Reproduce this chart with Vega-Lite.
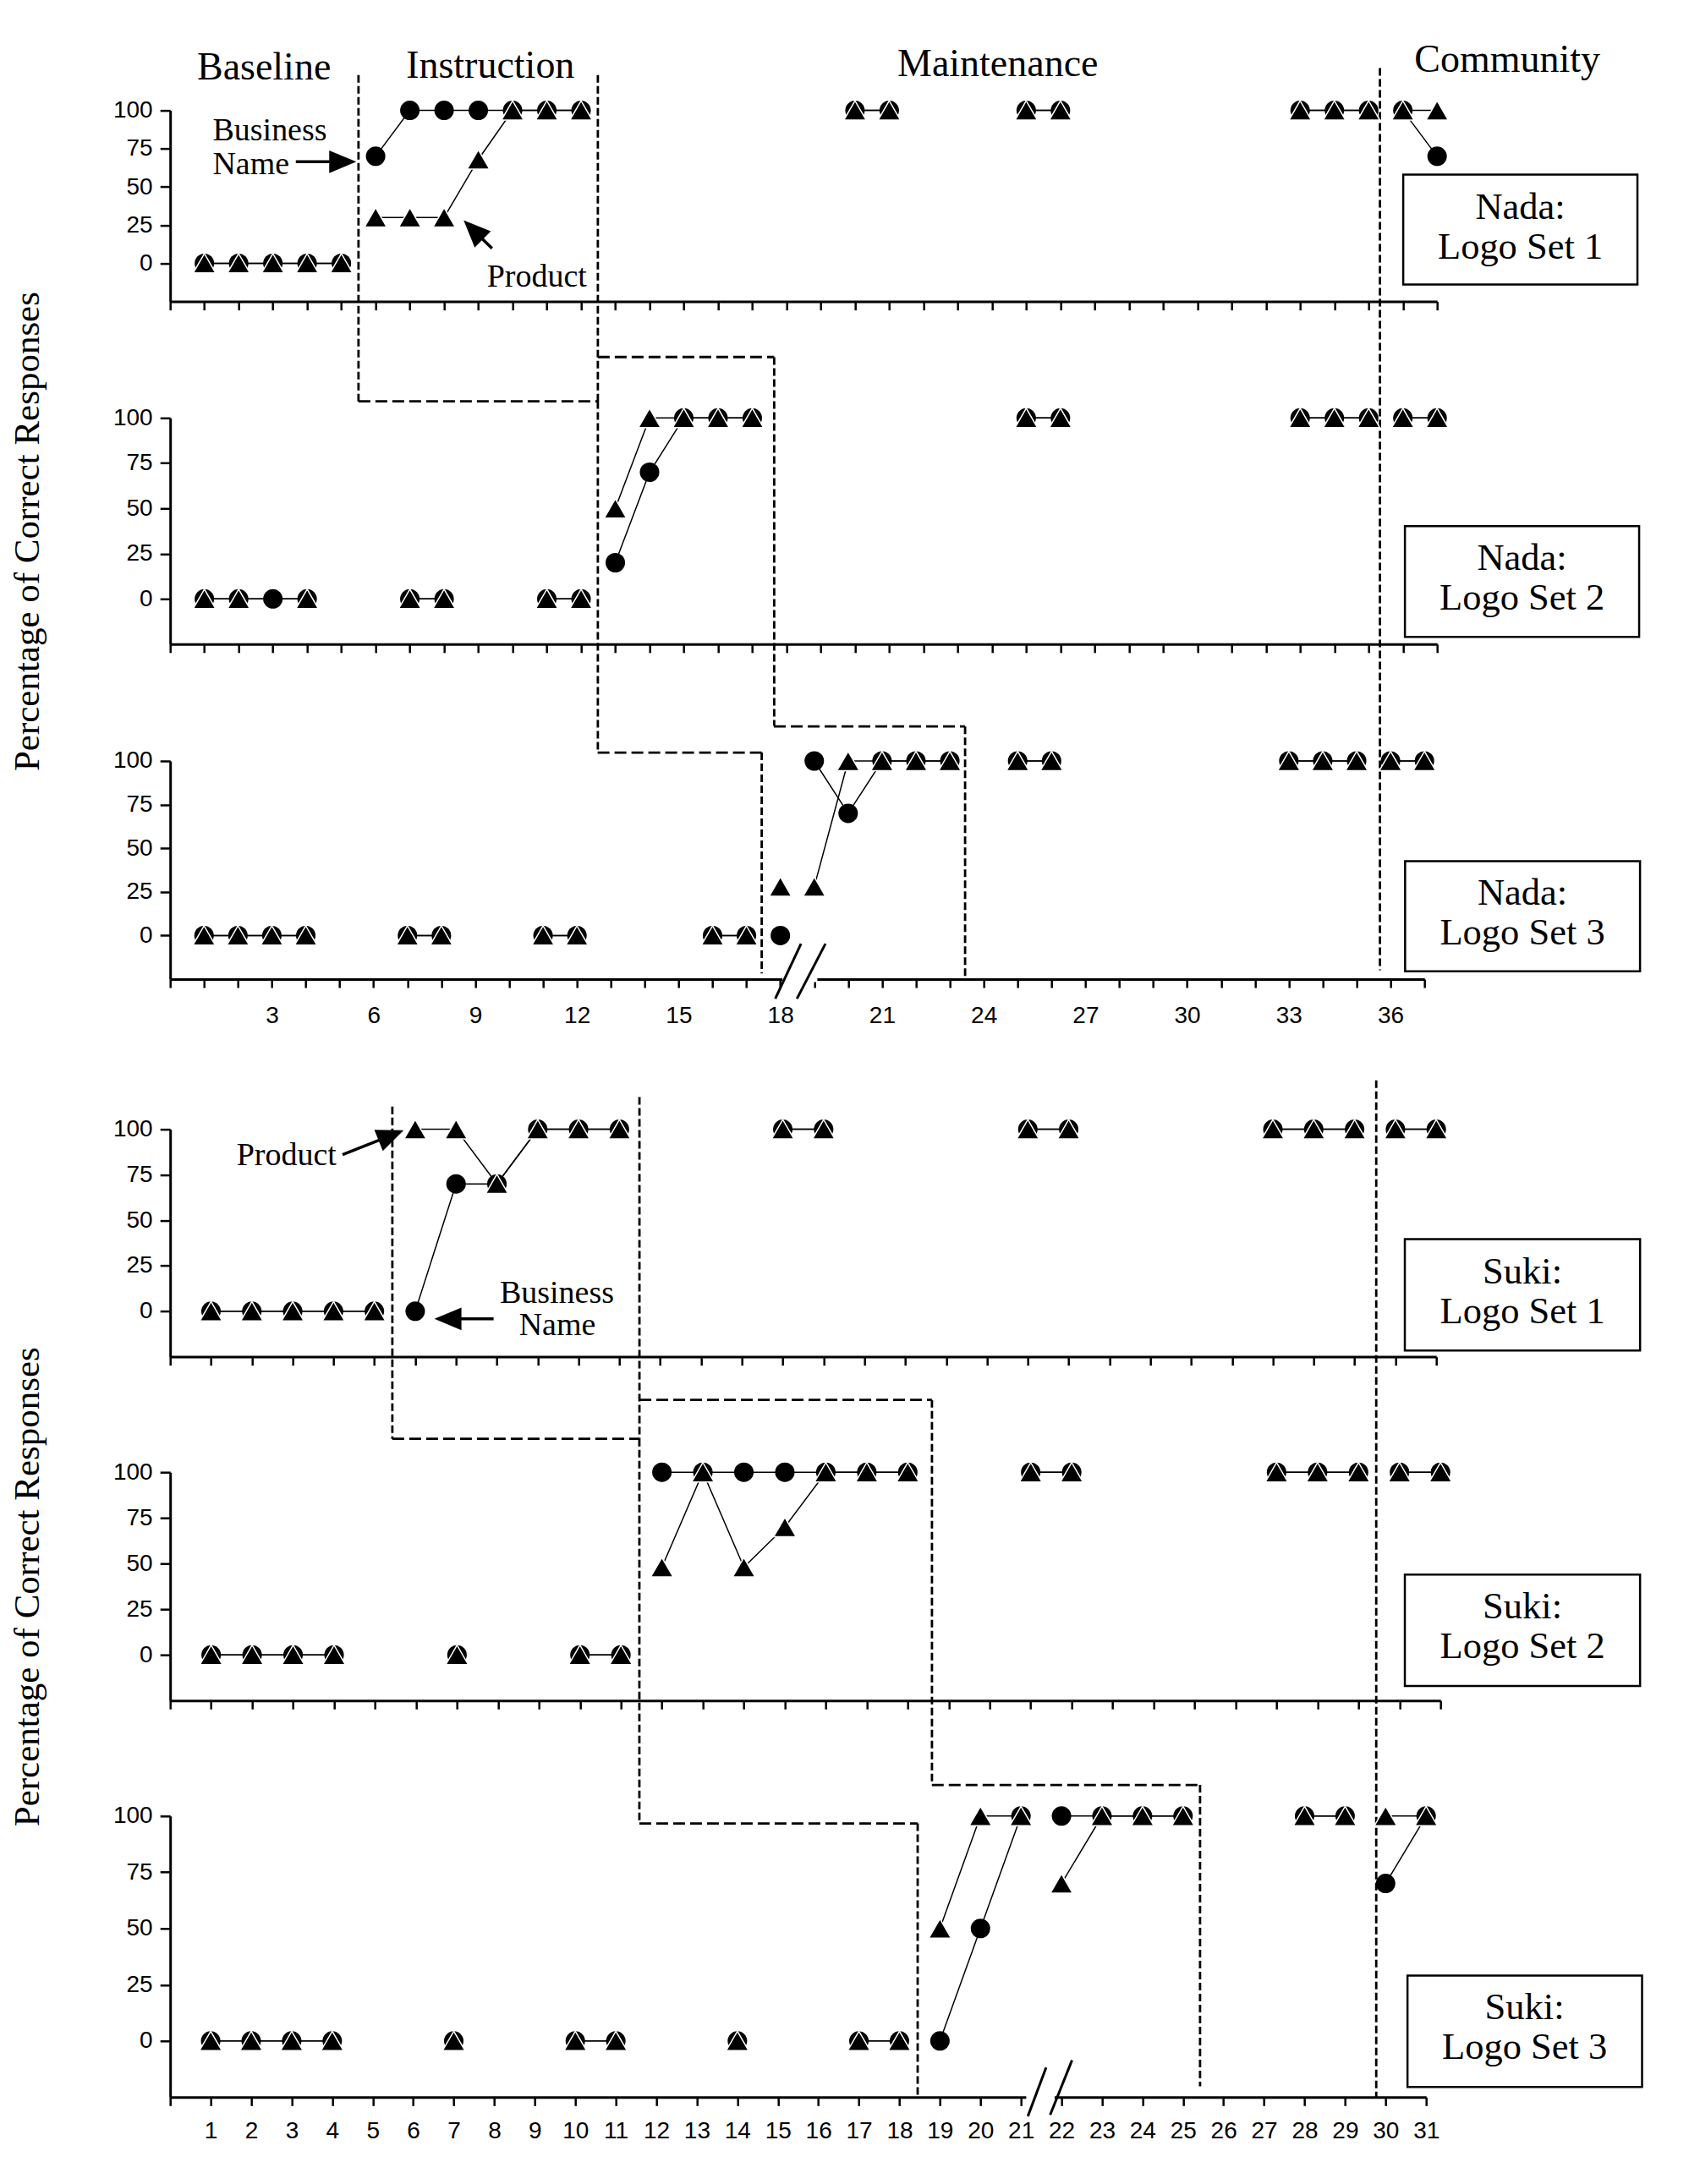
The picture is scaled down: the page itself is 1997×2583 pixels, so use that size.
{
"$schema": "https://vega.github.io/schema/vega-lite/v6.json",
"background": "white",
"autosize": {"type": "pad"},
"padding": {"left": 11.2, "top": 47.6, "right": 10, "bottom": 10},
"config": {
 "view": {"stroke": null},
 "axis": {"grid": false, "domainColor": "black", "domainWidth": 3, "tickColor": "black", "tickWidth": 2.5, "labelColor": "black", "labelFont": "Liberation Sans", "labelFontSize": 28, "labelOverlap": false, "labelFlush": false, "titleFont": "Liberation Serif", "titleFontSize": 43, "titleFontWeight": "normal", "titleColor": "black"},
 "text": {"font": "Liberation Serif", "color": "black"}
},
"datasets": {
 "obs": [
  {"panel":"N1","session":1,"seg":"b1","Business Name":0,"Product":0},
  {"panel":"N1","session":2,"seg":"b1","Business Name":0,"Product":0},
  {"panel":"N1","session":3,"seg":"b1","Business Name":0,"Product":0},
  {"panel":"N1","session":4,"seg":"b1","Business Name":0,"Product":0},
  {"panel":"N1","session":5,"seg":"b1","Business Name":0,"Product":0},
  {"panel":"N1","session":6,"seg":"i1","Business Name":70,"Product":30},
  {"panel":"N1","session":7,"seg":"i1","Business Name":100,"Product":30},
  {"panel":"N1","session":8,"seg":"i1","Business Name":100,"Product":30},
  {"panel":"N1","session":9,"seg":"i1","Business Name":100,"Product":68},
  {"panel":"N1","session":10,"seg":"i1","Business Name":100,"Product":100},
  {"panel":"N1","session":11,"seg":"i1","Business Name":100,"Product":100},
  {"panel":"N1","session":12,"seg":"i1","Business Name":100,"Product":100},
  {"panel":"N1","session":20,"seg":"m1","Business Name":100,"Product":100},
  {"panel":"N1","session":21,"seg":"m1","Business Name":100,"Product":100},
  {"panel":"N1","session":25,"seg":"m2","Business Name":100,"Product":100},
  {"panel":"N1","session":26,"seg":"m2","Business Name":100,"Product":100},
  {"panel":"N1","session":33,"seg":"m3","Business Name":100,"Product":100},
  {"panel":"N1","session":34,"seg":"m3","Business Name":100,"Product":100},
  {"panel":"N1","session":35,"seg":"m3","Business Name":100,"Product":100},
  {"panel":"N1","session":36,"seg":"c1","Business Name":100,"Product":100},
  {"panel":"N1","session":37,"seg":"c1","Business Name":70,"Product":100},
  {"panel":"N2","session":1,"seg":"b1","Business Name":0,"Product":0},
  {"panel":"N2","session":2,"seg":"b1","Business Name":0,"Product":0},
  {"panel":"N2","session":3,"seg":"b1","Business Name":0},
  {"panel":"N2","session":4,"seg":"b1","Business Name":0,"Product":0},
  {"panel":"N2","session":7,"seg":"b2","Business Name":0,"Product":0},
  {"panel":"N2","session":8,"seg":"b2","Business Name":0,"Product":0},
  {"panel":"N2","session":11,"seg":"b3","Business Name":0,"Product":0},
  {"panel":"N2","session":12,"seg":"b3","Business Name":0,"Product":0},
  {"panel":"N2","session":13,"seg":"i1","Business Name":20,"Product":50},
  {"panel":"N2","session":14,"seg":"i1","Business Name":70,"Product":100},
  {"panel":"N2","session":15,"seg":"i1","Business Name":100,"Product":100},
  {"panel":"N2","session":16,"seg":"i1","Business Name":100,"Product":100},
  {"panel":"N2","session":17,"seg":"i1","Business Name":100,"Product":100},
  {"panel":"N2","session":25,"seg":"m1","Business Name":100,"Product":100},
  {"panel":"N2","session":26,"seg":"m1","Business Name":100,"Product":100},
  {"panel":"N2","session":33,"seg":"m2","Business Name":100,"Product":100},
  {"panel":"N2","session":34,"seg":"m2","Business Name":100,"Product":100},
  {"panel":"N2","session":35,"seg":"m2","Business Name":100,"Product":100},
  {"panel":"N2","session":36,"seg":"c1","Business Name":100,"Product":100},
  {"panel":"N2","session":37,"seg":"c1","Business Name":100,"Product":100},
  {"panel":"N3","session":1,"seg":"b1","Business Name":0,"Product":0},
  {"panel":"N3","session":2,"seg":"b1","Business Name":0,"Product":0},
  {"panel":"N3","session":3,"seg":"b1","Business Name":0,"Product":0},
  {"panel":"N3","session":4,"seg":"b1","Business Name":0,"Product":0},
  {"panel":"N3","session":7,"seg":"b2","Business Name":0,"Product":0},
  {"panel":"N3","session":8,"seg":"b2","Business Name":0,"Product":0},
  {"panel":"N3","session":11,"seg":"b3","Business Name":0,"Product":0},
  {"panel":"N3","session":12,"seg":"b3","Business Name":0,"Product":0},
  {"panel":"N3","session":16,"seg":"b4","Business Name":0,"Product":0},
  {"panel":"N3","session":17,"seg":"b4","Business Name":0,"Product":0},
  {"panel":"N3","session":18,"seg":"i0","Business Name":0,"Product":28},
  {"panel":"N3","session":19,"seg":"i1","Business Name":100,"Product":28},
  {"panel":"N3","session":20,"seg":"i1","Business Name":70,"Product":100},
  {"panel":"N3","session":21,"seg":"i1","Business Name":100,"Product":100},
  {"panel":"N3","session":22,"seg":"i1","Business Name":100,"Product":100},
  {"panel":"N3","session":23,"seg":"i1","Business Name":100,"Product":100},
  {"panel":"N3","session":25,"seg":"m1","Business Name":100,"Product":100},
  {"panel":"N3","session":26,"seg":"m1","Business Name":100,"Product":100},
  {"panel":"N3","session":33,"seg":"m2","Business Name":100,"Product":100},
  {"panel":"N3","session":34,"seg":"m2","Business Name":100,"Product":100},
  {"panel":"N3","session":35,"seg":"m2","Business Name":100,"Product":100},
  {"panel":"N3","session":36,"seg":"c1","Business Name":100,"Product":100},
  {"panel":"N3","session":37,"seg":"c1","Business Name":100,"Product":100},
  {"panel":"S1","session":1,"seg":"b1","Business Name":0,"Product":0},
  {"panel":"S1","session":2,"seg":"b1","Business Name":0,"Product":0},
  {"panel":"S1","session":3,"seg":"b1","Business Name":0,"Product":0},
  {"panel":"S1","session":4,"seg":"b1","Business Name":0,"Product":0},
  {"panel":"S1","session":5,"seg":"b1","Business Name":0,"Product":0},
  {"panel":"S1","session":6,"seg":"i1","Business Name":0,"Product":100},
  {"panel":"S1","session":7,"seg":"i1","Business Name":70,"Product":100},
  {"panel":"S1","session":8,"seg":"i1","Business Name":70,"Product":70},
  {"panel":"S1","session":9,"seg":"i1","Business Name":100,"Product":100},
  {"panel":"S1","session":10,"seg":"i1","Business Name":100,"Product":100},
  {"panel":"S1","session":11,"seg":"i1","Business Name":100,"Product":100},
  {"panel":"S1","session":15,"seg":"m1","Business Name":100,"Product":100},
  {"panel":"S1","session":16,"seg":"m1","Business Name":100,"Product":100},
  {"panel":"S1","session":21,"seg":"m2","Business Name":100,"Product":100},
  {"panel":"S1","session":22,"seg":"m2","Business Name":100,"Product":100},
  {"panel":"S1","session":27,"seg":"m3","Business Name":100,"Product":100},
  {"panel":"S1","session":28,"seg":"m3","Business Name":100,"Product":100},
  {"panel":"S1","session":29,"seg":"m3","Business Name":100,"Product":100},
  {"panel":"S1","session":30,"seg":"c1","Business Name":100,"Product":100},
  {"panel":"S1","session":31,"seg":"c1","Business Name":100,"Product":100},
  {"panel":"S2","session":1,"seg":"b1","Business Name":0,"Product":0},
  {"panel":"S2","session":2,"seg":"b1","Business Name":0,"Product":0},
  {"panel":"S2","session":3,"seg":"b1","Business Name":0,"Product":0},
  {"panel":"S2","session":4,"seg":"b1","Business Name":0,"Product":0},
  {"panel":"S2","session":7,"seg":"b2","Business Name":0,"Product":0},
  {"panel":"S2","session":10,"seg":"b3","Business Name":0,"Product":0},
  {"panel":"S2","session":11,"seg":"b3","Business Name":0,"Product":0},
  {"panel":"S2","session":12,"seg":"i1","Business Name":100,"Product":48},
  {"panel":"S2","session":13,"seg":"i1","Business Name":100,"Product":100},
  {"panel":"S2","session":14,"seg":"i1","Business Name":100,"Product":48},
  {"panel":"S2","session":15,"seg":"i1","Business Name":100,"Product":70},
  {"panel":"S2","session":16,"seg":"i1","Business Name":100,"Product":100},
  {"panel":"S2","session":17,"seg":"i1","Business Name":100,"Product":100},
  {"panel":"S2","session":18,"seg":"i1","Business Name":100,"Product":100},
  {"panel":"S2","session":21,"seg":"m1","Business Name":100,"Product":100},
  {"panel":"S2","session":22,"seg":"m1","Business Name":100,"Product":100},
  {"panel":"S2","session":27,"seg":"m2","Business Name":100,"Product":100},
  {"panel":"S2","session":28,"seg":"m2","Business Name":100,"Product":100},
  {"panel":"S2","session":29,"seg":"m2","Business Name":100,"Product":100},
  {"panel":"S2","session":30,"seg":"c1","Business Name":100,"Product":100},
  {"panel":"S2","session":31,"seg":"c1","Business Name":100,"Product":100},
  {"panel":"S3","session":1,"seg":"b1","Business Name":0,"Product":0},
  {"panel":"S3","session":2,"seg":"b1","Business Name":0,"Product":0},
  {"panel":"S3","session":3,"seg":"b1","Business Name":0,"Product":0},
  {"panel":"S3","session":4,"seg":"b1","Business Name":0,"Product":0},
  {"panel":"S3","session":7,"seg":"b2","Business Name":0,"Product":0},
  {"panel":"S3","session":10,"seg":"b3","Business Name":0,"Product":0},
  {"panel":"S3","session":11,"seg":"b3","Business Name":0,"Product":0},
  {"panel":"S3","session":14,"seg":"b4","Business Name":0,"Product":0},
  {"panel":"S3","session":17,"seg":"b5","Business Name":0,"Product":0},
  {"panel":"S3","session":18,"seg":"b5","Business Name":0,"Product":0},
  {"panel":"S3","session":19,"seg":"i1","Business Name":0,"Product":50},
  {"panel":"S3","session":20,"seg":"i1","Business Name":50,"Product":100},
  {"panel":"S3","session":21,"seg":"i1","Business Name":100,"Product":100},
  {"panel":"S3","session":22,"seg":"i2","Business Name":100,"Product":70},
  {"panel":"S3","session":23,"seg":"i2","Business Name":100,"Product":100},
  {"panel":"S3","session":24,"seg":"i2","Business Name":100,"Product":100},
  {"panel":"S3","session":25,"seg":"i2","Business Name":100,"Product":100},
  {"panel":"S3","session":28,"seg":"m1","Business Name":100,"Product":100},
  {"panel":"S3","session":29,"seg":"m1","Business Name":100,"Product":100},
  {"panel":"S3","session":30,"seg":"c1","Business Name":70,"Product":100},
  {"panel":"S3","session":31,"seg":"c1","Business Name":100,"Product":100}
 ],
 "phase": [
  {"panel":"N1","session":5.5,"value":123.2,"session2":5.5,"value2":-90.3},
  {"panel":"N1","session":5.5,"value":-90.3,"session2":12.49,"value2":-90.3},
  {"panel":"N1","session":12.49,"value":123.2,"session2":12.49,"value2":-90.3},
  {"panel":"N1","session":12.49,"value":-61.3,"session2":17.64,"value2":-61.3},
  {"panel":"N1","session":35.33,"value":127.7,"session2":35.33,"value2":-462.5},
  {"panel":"N2","session":12.49,"value":109.2,"session2":12.49,"value2":-84.7},
  {"panel":"N2","session":17.64,"value":133.6,"session2":17.64,"value2":-70.2},
  {"panel":"N3","session":12.61,"value":104.8,"session2":17.45,"value2":104.8},
  {"panel":"N3","session":17.45,"value":104.8,"session2":17.45,"value2":-21.7},
  {"panel":"N3","session":17.81,"value":119.8,"session2":23.45,"value2":119.8},
  {"panel":"N3","session":23.45,"value":119.8,"session2":23.45,"value2":-24.1},
  {"panel":"S1","session":5.44,"value":112.5,"session2":5.44,"value2":-70.1},
  {"panel":"S1","session":5.44,"value":-70.1,"session2":11.49,"value2":-70.1},
  {"panel":"S1","session":11.49,"value":117.7,"session2":11.49,"value2":-70.1},
  {"panel":"S1","session":11.49,"value":-48.7,"session2":18.65,"value2":-48.7},
  {"panel":"S1","session":29.53,"value":126.9,"session2":29.53,"value2":-432.1},
  {"panel":"S2","session":11.45,"value":118.3,"session2":11.45,"value2":-92.4},
  {"panel":"S2","session":18.59,"value":139.6,"session2":18.59,"value2":-71.0},
  {"panel":"S3","session":11.58,"value":96.7,"session2":18.45,"value2":96.7},
  {"panel":"S3","session":18.45,"value":96.7,"session2":18.45,"value2":-24.0},
  {"panel":"S3","session":18.8,"value":113.8,"session2":25.42,"value2":113.8},
  {"panel":"S3","session":25.42,"value":113.8,"session2":25.42,"value2":-20.2}
 ],
 "texts": [
  {"panel":"N1","kind":"phase","session":2.74,"value":120.4,"text":"Baseline"},
  {"panel":"N1","kind":"phase","session":9.35,"value":121.3,"text":"Instruction"},
  {"panel":"N1","kind":"phase","session":24.17,"value":122.2,"text":"Maintenance"},
  {"panel":"N1","kind":"phase","session":39.05,"value":125.1,"text":"Community"},
  {"panel":"N1","kind":"note","session":2.91,"value":80.6,"text":"Business"},
  {"panel":"N1","kind":"note","session":2.36,"value":58.5,"text":"Name"},
  {"panel":"N1","kind":"note","session":10.71,"value":-15.2,"text":"Product"},
  {"panel":"S1","kind":"note","session":2.85,"value":80.2,"text":"Product"},
  {"panel":"S1","kind":"note","session":9.47,"value":4.7,"text":"Business"},
  {"panel":"S1","kind":"note","session":9.48,"value":-13.1,"text":"Name"},
  {"panel":"N1","kind":"box","session":39.43,"value":29.0,"text":"Nada:\nLogo Set 1"},
  {"panel":"N2","kind":"box","session":39.48,"value":16.1,"text":"Nada:\nLogo Set 2"},
  {"panel":"N3","kind":"box","session":39.89,"value":17.4,"text":"Nada:\nLogo Set 3"},
  {"panel":"S1","kind":"box","session":33.11,"value":15.4,"text":"Suki:\nLogo Set 1"},
  {"panel":"S2","kind":"box","session":33.0,"value":19.9,"text":"Suki:\nLogo Set 2"},
  {"panel":"S3","kind":"box","session":33.43,"value":9.6,"text":"Suki:\nLogo Set 3"}
 ],
 "boxes": [
  {"panel":"N1","session":36.01,"session2":42.85,"value":58.0,"value2":-13.9},
  {"panel":"N2","session":36.06,"session2":42.9,"value":40.2,"value2":-21.0},
  {"panel":"N3","session":36.43,"session2":43.36,"value":42.6,"value2":-20.5},
  {"panel":"S1","session":30.23,"session2":35.99,"value":39.6,"value2":-21.6},
  {"panel":"S2","session":30.13,"session2":35.87,"value":43.9,"value2":-17.0},
  {"panel":"S3","session":30.54,"session2":36.33,"value":29.1,"value2":-20.5}
 ],
 "shafts": [
  {"panel":"N1","session":3.67,"value":66.4,"session2":4.72,"value2":66.4},
  {"panel":"N1","session":9.02,"value":18.1,"session2":9.4,"value2":9.7},
  {"panel":"S1","session":4.22,"value":86.1,"session2":5.16,"value2":94.4},
  {"panel":"S1","session":7.02,"value":-4.2,"session2":7.92,"value2":-4.2}
 ],
 "heads": [
  {"panel":"N1","session":5.04,"value":66.4,"angle":0},
  {"panel":"N1","session":8.85,"value":21.9,"angle":225},
  {"panel":"S1","session":5.41,"value":96.7,"angle":338},
  {"panel":"S1","session":6.8,"value":-4.2,"angle":180}
 ],
 "breaks": [
  {"panel":"N3","session":18.61,"value":-4.7,"session2":17.85,"value2":-36.2},
  {"panel":"N3","session":19.33,"value":-4.7,"session2":18.49,"value2":-36.2},
  {"panel":"S3","session":21.62,"value":-11.8,"session2":21.17,"value2":-33.5},
  {"panel":"S3","session":22.26,"value":-8.6,"session2":21.72,"value2":-32.9}
 ],
 "gaps": [
  {"panel":"N3","session":18.06,"session2":19.09,"value":-23.35,"value2":-26.74},
  {"panel":"S3","session":21.13,"session2":21.83,"value":-23.7,"value2":-26.3}
 ]
},
"spacing": 60,
"vconcat": [
 {"bounds": "flush", "spacing": 137.7, "vconcat": [
  {"width": 1498, "height": 226,
   "encoding": {
    "x": {"field": "session", "type": "quantitative", "scale": {"domain": [0, 37], "nice": false, "zero": false}, "axis": {"title": null, "values": [0,1,2,3,4,5,6,7,8,9,10,11,12,13,14,15,16,17,18,19,20,21,22,23,24,25,26,27,28,29,30,31,32,33,34,35,36,37], "labels": false, "tickSize": 10}},
    "y": {"field": "value", "type": "quantitative", "scale": {"domain": [-25, 100], "nice": false, "zero": false}, "axis": {"title": null, "values": [0,25,50,75,100], "tickSize": 12, "labelPadding": 9}}
   },
   "layer": [
    {"data": {"name": "phase"}, "transform": [{"filter": "datum.panel == 'N1' && datum.session == datum.session2"}], "mark": {"type": "rule", "color": "black", "strokeWidth": 2.8, "strokeDash": [9, 4]}, "encoding": {"x2": {"field": "session2"}, "y2": {"field": "value2"}}},
    {"data": {"name": "phase"}, "transform": [{"filter": "datum.panel == 'N1' && datum.session != datum.session2"}], "mark": {"type": "rule", "color": "black", "strokeWidth": 2.8, "strokeDash": [14, 6]}, "encoding": {"x2": {"field": "session2"}, "y2": {"field": "value2"}}},
    {"data": {"name": "obs"}, "transform": [{"filter": "datum.panel == 'N1'"}, {"fold": ["Business Name", "Product"], "as": ["measure", "value"]}, {"filter": "isValid(datum.value)"}], "mark": {"type": "line", "color": "black", "strokeWidth": 1.5}, "encoding": {"detail": [{"field": "seg"}, {"field": "measure"}]}},
    {"data": {"name": "obs"}, "transform": [{"filter": "datum.panel == 'N1'"}, {"fold": ["Business Name", "Product"], "as": ["measure", "value"]}, {"filter": "isValid(datum.value) && datum.measure == 'Business Name'"}], "mark": {"type": "point", "shape": "circle", "filled": true, "color": "black", "opacity": 1, "size": 530}},
    {"data": {"name": "obs"}, "transform": [{"filter": "datum.panel == 'N1'"}, {"fold": ["Business Name", "Product"], "as": ["measure", "value"]}, {"filter": "isValid(datum.value) && datum.measure == 'Product'"}], "mark": {"type": "point", "shape": "triangle-up", "filled": true, "fill": "black", "stroke": "white", "strokeWidth": 1.5, "opacity": 1, "size": 700}},
    {"data": {"name": "shafts"}, "transform": [{"filter": "datum.panel == 'N1'"}], "mark": {"type": "rule", "color": "black", "strokeWidth": 3.5}, "encoding": {"x2": {"field": "session2"}, "y2": {"field": "value2"}}},
    {"data": {"name": "heads"}, "transform": [{"filter": "datum.panel == 'N1'"}], "mark": {"type": "point", "shape": "M1,0L-1,-0.84L-1,0.84Z", "filled": true, "color": "black", "opacity": 1, "size": 1024}, "encoding": {"angle": {"field": "angle", "type": "quantitative", "scale": null}}},
    {"data": {"name": "boxes"}, "transform": [{"filter": "datum.panel == 'N1'"}], "mark": {"type": "rect", "fill": "white", "stroke": "black", "strokeWidth": 2.5}, "encoding": {"x2": {"field": "session2"}, "y2": {"field": "value2"}}},
    {"data": {"name": "texts"}, "transform": [{"filter": "datum.panel == 'N1' && datum.kind == 'box'"}], "mark": {"type": "text", "fontSize": 44.5, "lineHeight": 47, "lineBreak": "\n", "align": "center", "baseline": "alphabetic"}, "encoding": {"text": {"field": "text"}}},
    {"data": {"name": "texts"}, "transform": [{"filter": "datum.panel == 'N1' && datum.kind == 'phase'"}], "mark": {"type": "text", "fontSize": 46, "align": "center", "baseline": "alphabetic"}, "encoding": {"text": {"field": "text"}}},
    {"data": {"name": "texts"}, "transform": [{"filter": "datum.panel == 'N1' && datum.kind == 'note'"}], "mark": {"type": "text", "fontSize": 38, "align": "center", "baseline": "alphabetic"}, "encoding": {"text": {"field": "text"}}}
   ]
  },
  {"width": 1498, "height": 267.5,
   "encoding": {
    "x": {"field": "session", "type": "quantitative", "scale": {"domain": [0, 37], "nice": false, "zero": false}, "axis": {"title": null, "values": [0,1,2,3,4,5,6,7,8,9,10,11,12,13,14,15,16,17,18,19,20,21,22,23,24,25,26,27,28,29,30,31,32,33,34,35,36,37], "labels": false, "tickSize": 10}},
    "y": {"field": "value", "type": "quantitative", "scale": {"domain": [-25, 100], "nice": false, "zero": false}, "axis": {"title": "Percentage of Correct Responses", "titlePadding": 79.1, "values": [0,25,50,75,100], "tickSize": 12, "labelPadding": 9}}
   },
   "layer": [
    {"data": {"name": "phase"}, "transform": [{"filter": "datum.panel == 'N2' && datum.session == datum.session2"}], "mark": {"type": "rule", "color": "black", "strokeWidth": 2.8, "strokeDash": [9, 4]}, "encoding": {"x2": {"field": "session2"}, "y2": {"field": "value2"}}},
    {"data": {"name": "obs"}, "transform": [{"filter": "datum.panel == 'N2'"}, {"fold": ["Business Name", "Product"], "as": ["measure", "value"]}, {"filter": "isValid(datum.value)"}], "mark": {"type": "line", "color": "black", "strokeWidth": 1.5}, "encoding": {"detail": [{"field": "seg"}, {"field": "measure"}]}},
    {"data": {"name": "obs"}, "transform": [{"filter": "datum.panel == 'N2'"}, {"fold": ["Business Name", "Product"], "as": ["measure", "value"]}, {"filter": "isValid(datum.value) && datum.measure == 'Business Name'"}], "mark": {"type": "point", "shape": "circle", "filled": true, "color": "black", "opacity": 1, "size": 530}},
    {"data": {"name": "obs"}, "transform": [{"filter": "datum.panel == 'N2'"}, {"fold": ["Business Name", "Product"], "as": ["measure", "value"]}, {"filter": "isValid(datum.value) && datum.measure == 'Product'"}], "mark": {"type": "point", "shape": "triangle-up", "filled": true, "fill": "black", "stroke": "white", "strokeWidth": 1.5, "opacity": 1, "size": 700}},
    {"data": {"name": "boxes"}, "transform": [{"filter": "datum.panel == 'N2'"}], "mark": {"type": "rect", "fill": "white", "stroke": "black", "strokeWidth": 2.5}, "encoding": {"x2": {"field": "session2"}, "y2": {"field": "value2"}}},
    {"data": {"name": "texts"}, "transform": [{"filter": "datum.panel == 'N2' && datum.kind == 'box'"}], "mark": {"type": "text", "fontSize": 44.5, "lineHeight": 47, "lineBreak": "\n", "align": "center", "baseline": "alphabetic"}, "encoding": {"text": {"field": "text"}}}
   ]
  },
  {"width": 1483, "height": 258,
   "encoding": {
    "x": {"field": "session", "type": "quantitative", "scale": {"domain": [0, 37], "nice": false, "zero": false}, "axis": {"title": null, "values": [0,1,2,3,4,5,6,7,8,9,10,11,12,13,14,15,16,17,18,19,20,21,22,23,24,25,26,27,28,29,30,31,32,33,34,35,36,37], "tickSize": 10, "labelFontSize": 28, "labelPadding": 19.4, "labelExpr": "datum.value % 3 == 0 && datum.value > 0 ? datum.label : ''"}},
    "y": {"field": "value", "type": "quantitative", "scale": {"domain": [-25, 100], "nice": false, "zero": false}, "axis": {"title": null, "values": [0,25,50,75,100], "tickSize": 12, "labelPadding": 9}}
   },
   "layer": [
    {"data": {"name": "gaps"}, "transform": [{"filter": "datum.panel == 'N3'"}], "mark": {"type": "rect", "fill": "white"}, "encoding": {"x2": {"field": "session2"}, "y2": {"field": "value2"}}},
    {"data": {"name": "phase"}, "transform": [{"filter": "datum.panel == 'N3' && datum.session == datum.session2"}], "mark": {"type": "rule", "color": "black", "strokeWidth": 2.8, "strokeDash": [9, 4]}, "encoding": {"x2": {"field": "session2"}, "y2": {"field": "value2"}}},
    {"data": {"name": "phase"}, "transform": [{"filter": "datum.panel == 'N3' && datum.session != datum.session2"}], "mark": {"type": "rule", "color": "black", "strokeWidth": 2.8, "strokeDash": [14, 6]}, "encoding": {"x2": {"field": "session2"}, "y2": {"field": "value2"}}},
    {"data": {"name": "breaks"}, "transform": [{"filter": "datum.panel == 'N3'"}], "mark": {"type": "rule", "color": "black", "strokeWidth": 3}, "encoding": {"x2": {"field": "session2"}, "y2": {"field": "value2"}}},
    {"data": {"name": "obs"}, "transform": [{"filter": "datum.panel == 'N3'"}, {"fold": ["Business Name", "Product"], "as": ["measure", "value"]}, {"filter": "isValid(datum.value)"}], "mark": {"type": "line", "color": "black", "strokeWidth": 1.5}, "encoding": {"detail": [{"field": "seg"}, {"field": "measure"}]}},
    {"data": {"name": "obs"}, "transform": [{"filter": "datum.panel == 'N3'"}, {"fold": ["Business Name", "Product"], "as": ["measure", "value"]}, {"filter": "isValid(datum.value) && datum.measure == 'Business Name'"}], "mark": {"type": "point", "shape": "circle", "filled": true, "color": "black", "opacity": 1, "size": 530}},
    {"data": {"name": "obs"}, "transform": [{"filter": "datum.panel == 'N3'"}, {"fold": ["Business Name", "Product"], "as": ["measure", "value"]}, {"filter": "isValid(datum.value) && datum.measure == 'Product'"}], "mark": {"type": "point", "shape": "triangle-up", "filled": true, "fill": "black", "stroke": "white", "strokeWidth": 1.5, "opacity": 1, "size": 700}},
    {"data": {"name": "boxes"}, "transform": [{"filter": "datum.panel == 'N3'"}], "mark": {"type": "rect", "fill": "white", "stroke": "black", "strokeWidth": 2.5}, "encoding": {"x2": {"field": "session2"}, "y2": {"field": "value2"}}},
    {"data": {"name": "texts"}, "transform": [{"filter": "datum.panel == 'N3' && datum.kind == 'box'"}], "mark": {"type": "text", "fontSize": 44.5, "lineHeight": 47, "lineBreak": "\n", "align": "center", "baseline": "alphabetic"}, "encoding": {"text": {"field": "text"}}}
   ]
  }
 ]},
 {"bounds": "flush", "spacing": 136.6, "vconcat": [
  {"width": 1497, "height": 269,
   "encoding": {
    "x": {"field": "session", "type": "quantitative", "scale": {"domain": [0, 31], "nice": false, "zero": false}, "axis": {"title": null, "values": [0,1,2,3,4,5,6,7,8,9,10,11,12,13,14,15,16,17,18,19,20,21,22,23,24,25,26,27,28,29,30,31], "labels": false, "tickSize": 10}},
    "y": {"field": "value", "type": "quantitative", "scale": {"domain": [-25, 100], "nice": false, "zero": false}, "axis": {"title": null, "values": [0,25,50,75,100], "tickSize": 12, "labelPadding": 9}}
   },
   "layer": [
    {"data": {"name": "phase"}, "transform": [{"filter": "datum.panel == 'S1' && datum.session == datum.session2"}], "mark": {"type": "rule", "color": "black", "strokeWidth": 2.8, "strokeDash": [9, 4]}, "encoding": {"x2": {"field": "session2"}, "y2": {"field": "value2"}}},
    {"data": {"name": "phase"}, "transform": [{"filter": "datum.panel == 'S1' && datum.session != datum.session2"}], "mark": {"type": "rule", "color": "black", "strokeWidth": 2.8, "strokeDash": [14, 6]}, "encoding": {"x2": {"field": "session2"}, "y2": {"field": "value2"}}},
    {"data": {"name": "obs"}, "transform": [{"filter": "datum.panel == 'S1'"}, {"fold": ["Business Name", "Product"], "as": ["measure", "value"]}, {"filter": "isValid(datum.value)"}], "mark": {"type": "line", "color": "black", "strokeWidth": 1.5}, "encoding": {"detail": [{"field": "seg"}, {"field": "measure"}]}},
    {"data": {"name": "obs"}, "transform": [{"filter": "datum.panel == 'S1'"}, {"fold": ["Business Name", "Product"], "as": ["measure", "value"]}, {"filter": "isValid(datum.value) && datum.measure == 'Business Name'"}], "mark": {"type": "point", "shape": "circle", "filled": true, "color": "black", "opacity": 1, "size": 530}},
    {"data": {"name": "obs"}, "transform": [{"filter": "datum.panel == 'S1'"}, {"fold": ["Business Name", "Product"], "as": ["measure", "value"]}, {"filter": "isValid(datum.value) && datum.measure == 'Product'"}], "mark": {"type": "point", "shape": "triangle-up", "filled": true, "fill": "black", "stroke": "white", "strokeWidth": 1.5, "opacity": 1, "size": 700}},
    {"data": {"name": "shafts"}, "transform": [{"filter": "datum.panel == 'S1'"}], "mark": {"type": "rule", "color": "black", "strokeWidth": 3.5}, "encoding": {"x2": {"field": "session2"}, "y2": {"field": "value2"}}},
    {"data": {"name": "heads"}, "transform": [{"filter": "datum.panel == 'S1'"}], "mark": {"type": "point", "shape": "M1,0L-1,-0.84L-1,0.84Z", "filled": true, "color": "black", "opacity": 1, "size": 1024}, "encoding": {"angle": {"field": "angle", "type": "quantitative", "scale": null}}},
    {"data": {"name": "boxes"}, "transform": [{"filter": "datum.panel == 'S1'"}], "mark": {"type": "rect", "fill": "white", "stroke": "black", "strokeWidth": 2.5}, "encoding": {"x2": {"field": "session2"}, "y2": {"field": "value2"}}},
    {"data": {"name": "texts"}, "transform": [{"filter": "datum.panel == 'S1' && datum.kind == 'box'"}], "mark": {"type": "text", "fontSize": 44.5, "lineHeight": 47, "lineBreak": "\n", "align": "center", "baseline": "alphabetic"}, "encoding": {"text": {"field": "text"}}},
    {"data": {"name": "texts"}, "transform": [{"filter": "datum.panel == 'S1' && datum.kind == 'note'"}], "mark": {"type": "text", "fontSize": 38, "align": "center", "baseline": "alphabetic"}, "encoding": {"text": {"field": "text"}}}
   ]
  },
  {"width": 1502, "height": 270,
   "encoding": {
    "x": {"field": "session", "type": "quantitative", "scale": {"domain": [0, 31], "nice": false, "zero": false}, "axis": {"title": null, "values": [0,1,2,3,4,5,6,7,8,9,10,11,12,13,14,15,16,17,18,19,20,21,22,23,24,25,26,27,28,29,30,31], "labels": false, "tickSize": 10}},
    "y": {"field": "value", "type": "quantitative", "scale": {"domain": [-25, 100], "nice": false, "zero": false}, "axis": {"title": "Percentage of Correct Responses", "titlePadding": 79.1, "values": [0,25,50,75,100], "tickSize": 12, "labelPadding": 9}}
   },
   "layer": [
    {"data": {"name": "phase"}, "transform": [{"filter": "datum.panel == 'S2' && datum.session == datum.session2"}], "mark": {"type": "rule", "color": "black", "strokeWidth": 2.8, "strokeDash": [9, 4]}, "encoding": {"x2": {"field": "session2"}, "y2": {"field": "value2"}}},
    {"data": {"name": "obs"}, "transform": [{"filter": "datum.panel == 'S2'"}, {"fold": ["Business Name", "Product"], "as": ["measure", "value"]}, {"filter": "isValid(datum.value)"}], "mark": {"type": "line", "color": "black", "strokeWidth": 1.5}, "encoding": {"detail": [{"field": "seg"}, {"field": "measure"}]}},
    {"data": {"name": "obs"}, "transform": [{"filter": "datum.panel == 'S2'"}, {"fold": ["Business Name", "Product"], "as": ["measure", "value"]}, {"filter": "isValid(datum.value) && datum.measure == 'Business Name'"}], "mark": {"type": "point", "shape": "circle", "filled": true, "color": "black", "opacity": 1, "size": 530}},
    {"data": {"name": "obs"}, "transform": [{"filter": "datum.panel == 'S2'"}, {"fold": ["Business Name", "Product"], "as": ["measure", "value"]}, {"filter": "isValid(datum.value) && datum.measure == 'Product'"}], "mark": {"type": "point", "shape": "triangle-up", "filled": true, "fill": "black", "stroke": "white", "strokeWidth": 1.5, "opacity": 1, "size": 700}},
    {"data": {"name": "boxes"}, "transform": [{"filter": "datum.panel == 'S2'"}], "mark": {"type": "rect", "fill": "white", "stroke": "black", "strokeWidth": 2.5}, "encoding": {"x2": {"field": "session2"}, "y2": {"field": "value2"}}},
    {"data": {"name": "texts"}, "transform": [{"filter": "datum.panel == 'S2' && datum.kind == 'box'"}], "mark": {"type": "text", "fontSize": 44.5, "lineHeight": 47, "lineBreak": "\n", "align": "center", "baseline": "alphabetic"}, "encoding": {"text": {"field": "text"}}}
   ]
  },
  {"width": 1485, "height": 332.5,
   "encoding": {
    "x": {"field": "session", "type": "quantitative", "scale": {"domain": [0, 31], "nice": false, "zero": false}, "axis": {"title": null, "values": [0,1,2,3,4,5,6,7,8,9,10,11,12,13,14,15,16,17,18,19,20,21,22,23,24,25,26,27,28,29,30,31], "tickSize": 10, "labelFontSize": 28, "labelPadding": 15.8, "labelExpr": "datum.value > 0 ? datum.label : ''"}},
    "y": {"field": "value", "type": "quantitative", "scale": {"domain": [-25, 100], "nice": false, "zero": false}, "axis": {"title": null, "values": [0,25,50,75,100], "tickSize": 12, "labelPadding": 9}}
   },
   "layer": [
    {"data": {"name": "gaps"}, "transform": [{"filter": "datum.panel == 'S3'"}], "mark": {"type": "rect", "fill": "white"}, "encoding": {"x2": {"field": "session2"}, "y2": {"field": "value2"}}},
    {"data": {"name": "phase"}, "transform": [{"filter": "datum.panel == 'S3' && datum.session == datum.session2"}], "mark": {"type": "rule", "color": "black", "strokeWidth": 2.8, "strokeDash": [9, 4]}, "encoding": {"x2": {"field": "session2"}, "y2": {"field": "value2"}}},
    {"data": {"name": "phase"}, "transform": [{"filter": "datum.panel == 'S3' && datum.session != datum.session2"}], "mark": {"type": "rule", "color": "black", "strokeWidth": 2.8, "strokeDash": [14, 6]}, "encoding": {"x2": {"field": "session2"}, "y2": {"field": "value2"}}},
    {"data": {"name": "breaks"}, "transform": [{"filter": "datum.panel == 'S3'"}], "mark": {"type": "rule", "color": "black", "strokeWidth": 3}, "encoding": {"x2": {"field": "session2"}, "y2": {"field": "value2"}}},
    {"data": {"name": "obs"}, "transform": [{"filter": "datum.panel == 'S3'"}, {"fold": ["Business Name", "Product"], "as": ["measure", "value"]}, {"filter": "isValid(datum.value)"}], "mark": {"type": "line", "color": "black", "strokeWidth": 1.5}, "encoding": {"detail": [{"field": "seg"}, {"field": "measure"}]}},
    {"data": {"name": "obs"}, "transform": [{"filter": "datum.panel == 'S3'"}, {"fold": ["Business Name", "Product"], "as": ["measure", "value"]}, {"filter": "isValid(datum.value) && datum.measure == 'Business Name'"}], "mark": {"type": "point", "shape": "circle", "filled": true, "color": "black", "opacity": 1, "size": 530}},
    {"data": {"name": "obs"}, "transform": [{"filter": "datum.panel == 'S3'"}, {"fold": ["Business Name", "Product"], "as": ["measure", "value"]}, {"filter": "isValid(datum.value) && datum.measure == 'Product'"}], "mark": {"type": "point", "shape": "triangle-up", "filled": true, "fill": "black", "stroke": "white", "strokeWidth": 1.5, "opacity": 1, "size": 700}},
    {"data": {"name": "boxes"}, "transform": [{"filter": "datum.panel == 'S3'"}], "mark": {"type": "rect", "fill": "white", "stroke": "black", "strokeWidth": 2.5}, "encoding": {"x2": {"field": "session2"}, "y2": {"field": "value2"}}},
    {"data": {"name": "texts"}, "transform": [{"filter": "datum.panel == 'S3' && datum.kind == 'box'"}], "mark": {"type": "text", "fontSize": 44.5, "lineHeight": 47, "lineBreak": "\n", "align": "center", "baseline": "alphabetic"}, "encoding": {"text": {"field": "text"}}}
   ]
  }
 ]}
]
}
